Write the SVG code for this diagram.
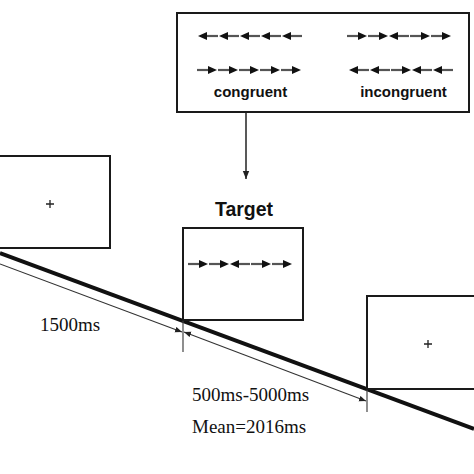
<svg xmlns="http://www.w3.org/2000/svg" xmlns:xlink="http://www.w3.org/1999/xlink" width="474" height="474" viewBox="0 0 474 474">
<style>
.box{fill:#fff;stroke:#1a1a1a;stroke-width:2}
.sans{font-family:"Liberation Sans",Arial,sans-serif;font-weight:bold;fill:#111}
.serif{font-family:"Liberation Serif","Times New Roman",serif;fill:#111;font-size:19px}
.shaft{stroke:#555;stroke-width:2.2}
.head{fill:#111}
.thin{stroke:#333;stroke-width:1.1;fill:none}
.plus{stroke:#222;stroke-width:1.3}
</style>
<defs>
<g id="ra"><path class="shaft" d="M0,0H13"/><polygon class="head" points="11,-4 20,0 11,4"/></g>
<g id="la"><path class="shaft" d="M7,0H20"/><polygon class="head" points="9,-4 0,0 9,4"/></g>
<marker id="ah" viewBox="0 0 10 10" refX="10" refY="5" markerWidth="7" markerHeight="7" orient="auto-start-reverse" markerUnits="userSpaceOnUse"><path d="M0,1L10,5L0,9z" fill="#222"/></marker>
<marker id="dn" viewBox="0 0 10 10" refX="10" refY="5" markerWidth="8" markerHeight="8" orient="auto" markerUnits="userSpaceOnUse"><path d="M0,1L10,5L0,9z" fill="#222"/></marker>
</defs>
<rect width="474" height="474" fill="#fff"/>

<g id="connectors">
<path d="M0,253L474,429" stroke="#111" stroke-width="4" fill="none"/>
<path class="thin" d="M0,264L182,332" marker-end="url(#ah)"/>
<path class="thin" d="M184,332L366,401" marker-start="url(#ah)" marker-end="url(#ah)"/>
<path d="M183,320V352" stroke="#444" stroke-width="1.2"/>
<path d="M367,389V412" stroke="#444" stroke-width="1.2"/>
<path d="M246,112V179" stroke="#222" stroke-width="1.5" marker-end="url(#dn)"/>
</g>

<g id="stimuli-box">
<rect class="box" x="177" y="13" width="292" height="99"/>
<g id="congruent-rows">
<use xlink:href="#la" x="198" y="36"/><use xlink:href="#la" x="219" y="36"/><use xlink:href="#la" x="240" y="36"/><use xlink:href="#la" x="261" y="36"/><use xlink:href="#la" x="282" y="36"/>
<use xlink:href="#ra" x="197" y="70"/><use xlink:href="#ra" x="218" y="70"/><use xlink:href="#ra" x="239" y="70"/><use xlink:href="#ra" x="260" y="70"/><use xlink:href="#ra" x="281" y="70"/>
</g>
<g id="incongruent-rows">
<use xlink:href="#ra" x="347" y="36"/><use xlink:href="#ra" x="368" y="36"/><use xlink:href="#la" x="389" y="36"/><use xlink:href="#ra" x="410" y="36"/><use xlink:href="#ra" x="431" y="36"/>
<use xlink:href="#la" x="349" y="70"/><use xlink:href="#la" x="370" y="70"/><use xlink:href="#ra" x="391" y="70"/><use xlink:href="#la" x="412" y="70"/><use xlink:href="#la" x="433" y="70"/>
</g>
<text class="sans" x="250.5" y="97" font-size="15" text-anchor="middle">congruent</text>
<text class="sans" x="403.5" y="97" font-size="15" text-anchor="middle">incongruent</text>
</g>

<g id="fixation-1">
<rect class="box" x="-5" y="156" width="115" height="92"/>
<path class="plus" d="M46,204H54M50,200V208"/>
</g>

<g id="target">
<text class="sans" x="244" y="216" font-size="19.5" text-anchor="middle">Target</text>
<rect class="box" x="183" y="228" width="120" height="92"/>
<use xlink:href="#ra" x="188" y="264"/><use xlink:href="#ra" x="209" y="264"/><use xlink:href="#la" x="230" y="264"/><use xlink:href="#ra" x="251" y="264"/><use xlink:href="#ra" x="272" y="264"/>
</g>

<g id="fixation-2">
<rect class="box" x="367" y="296" width="115" height="93"/>
<path class="plus" d="M424,344H432M428,340V348"/>
</g>

<g id="labels">
<text class="serif" x="40" y="331">1500ms</text>
<text class="serif" x="192" y="401">500ms-5000ms</text>
<text class="serif" x="192" y="433">Mean=2016ms</text>
</g>
</svg>
